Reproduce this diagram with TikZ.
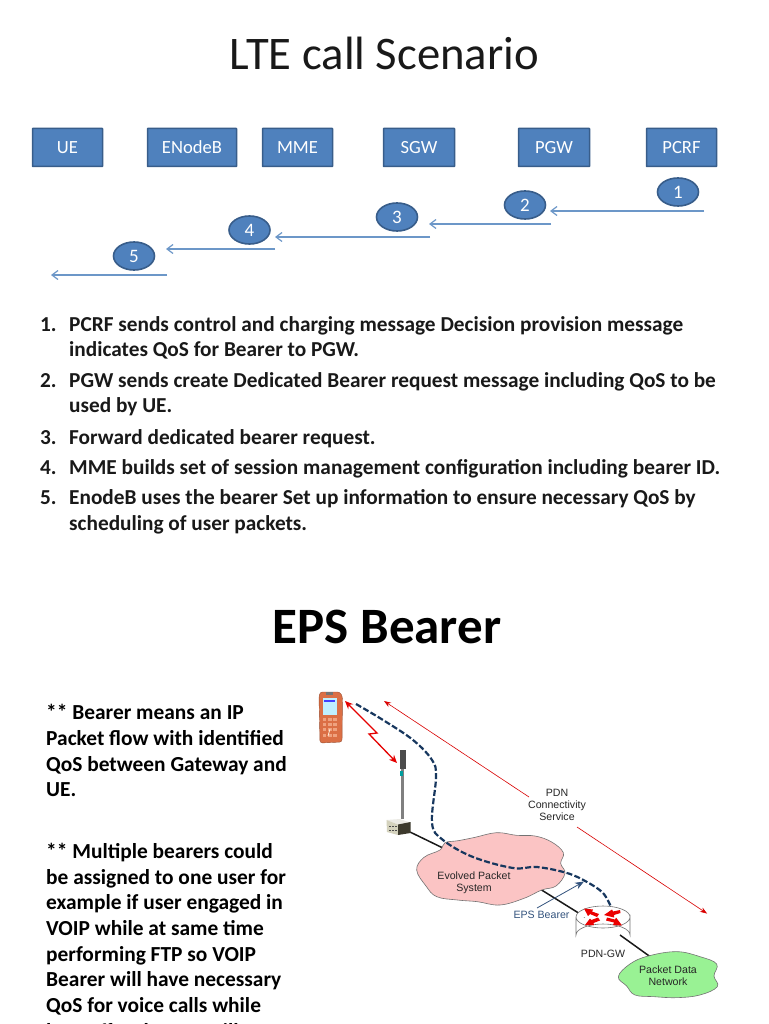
\documentclass[tikz,border=0pt]{standalone}
\usepackage{fontspec}
\setmainfont{Carlito}
\newfontfamily\arialf{Liberation Sans}
\usetikzlibrary{arrows.meta,shapes.geometric}
\definecolor{boxfill}{HTML}{4F81BD}
\definecolor{boxline}{HTML}{385D8A}
\definecolor{seqline}{HTML}{6C97C8}
\definecolor{navyb}{HTML}{17375E}
\definecolor{pinkc}{HTML}{FBC4C4}
\definecolor{greenc}{HTML}{99F294}
\definecolor{labelb}{HTML}{34547E}
\definecolor{phonec}{HTML}{DB6F45}
\definecolor{phonek}{HTML}{EFA27F}
\tikzset{
 x=1pt,y=-1pt,
 ent/.style={draw=boxline,line width=1.5pt,fill=boxfill,text=white,font=\fontsize{18.6}{22}\selectfont,inner sep=0pt,minimum height=38pt,rounded corners=.5pt,text height=12.5pt,text depth=0pt},
 num/.style={ellipse,draw=boxline,line width=1.6pt,fill=boxfill,text=white,font=\fontsize{19}{22}\selectfont,minimum width=41pt,minimum height=28pt,inner sep=0pt},
 seq/.style={draw=seqline,line width=1.3pt,-{Straight Barb[length=6pt,width=9pt,line width=1.2pt]}},
 item/.style={anchor=base west,inner sep=0pt,font=\fontsize{21.3}{24}\selectfont\bfseries,text=black!90},
 side/.style={anchor=base west,inner sep=0pt,font=\fontsize{21.4}{24}\selectfont\bfseries,text=black},
 gw/.style={inner sep=0pt,align=center,font=\arialf\fontsize{10.6}{12}\selectfont,text=black!85},
 thinred/.style={draw=red!85!black,line width=.6pt,-{Stealth[length=7pt,width=5pt]}},
 redflash/.style={draw=red!90!black,line width=1.3pt,line join=miter,{Stealth[length=8pt,width=7pt]}-{Stealth[length=8pt,width=7pt]}},
 wire/.style={draw=black!90,line width=1.5pt},
 rtr/.style={fill=red!92!black},
}
\begin{document}
\begin{tikzpicture}
\clip (0,0) rectangle (768,1024);
\fill[white] (0,0) rectangle (768,1024);
\node[inner sep=0pt,font=\fontsize{46.7}{52}\selectfont,text=black!90] (title1) at (384.5,53) {LTE call Scenario};
% entities
\node[ent,minimum width=70pt] (ue) at (67.5,147.5) {UE};
\node[ent,minimum width=89pt] (enb) at (192,147.5) {ENodeB};
\node[ent,minimum width=70pt] (mme) at (297.5,147.5) {MME};
\node[ent,minimum width=71pt] (sgw) at (419,147.5) {SGW};
\node[ent,minimum width=71pt] (pgw) at (554,147.5) {PGW};
\node[ent,minimum width=70pt] (pcrf) at (681.5,147.5) {PCRF};
\node[num] (n1) at (678,192) {1};
\node[num] (n2) at (525,205) {2};
\node[num] (n3) at (397,217) {3};
\node[num] (n4) at (249.5,230) {4};
\node[num] (n5) at (134,256) {5};
\coordinate (a1s) at (704,211); \coordinate (a1e) at (550,211);
\coordinate (a2s) at (551,224); \coordinate (a2e) at (429,224);
\coordinate (a3s) at (430,237); \coordinate (a3e) at (275,237);
\coordinate (a4s) at (275,249); \coordinate (a4e) at (166,249);
\coordinate (a5s) at (167,275); \coordinate (a5e) at (51,275);
\draw[seq] (a1s) -- (a1e);
\draw[seq] (a2s) -- (a2e);
\draw[seq] (a3s) -- (a3e);
\draw[seq] (a4s) -- (a4e);
\draw[seq] (a5s) -- (a5e);
% list
\node[item] (l1n) at (40,331) {1.};
\node[item] (l1a) at (69,331) {PCRF sends control and charging message Decision provision message};
\node[item] (l1b) at (69,356) {indicates QoS for Bearer to PGW.};
\node[item] (l2n) at (40,387) {2.};
\node[item] (l2a) at (69,387) {PGW sends create Dedicated Bearer request message including QoS to be};
\node[item] (l2b) at (69,412) {used by UE.};
\node[item] (l3n) at (40,444) {3.};
\node[item] (l3a) at (69,444) {Forward dedicated bearer request.};
\node[item] (l4n) at (40,474) {4.};
\node[item] (l4a) at (69,474) {MME builds set of session management configuration including bearer ID.};
\node[item] (l5n) at (40,504) {5.};
\node[item] (l5a) at (69,504) {EnodeB uses the bearer Set up information to ensure necessary QoS by};
\node[item] (l5b) at (69,530) {scheduling of user packets.};
\node[inner sep=0pt,font=\fontsize{51}{56}\selectfont\bfseries,text=black] (title2) at (387,627) {EPS Bearer};
% side text
\node[side] (s1) at (46,719) {** Bearer means an IP};
\node[side] (s2) at (46,745) {Packet flow with identified};
\node[side] (s3) at (46,771) {QoS between Gateway and};
\node[side] (s4) at (46,796) {UE.};
\node[side] (s5) at (46,858) {** Multiple bearers could};
\node[side] (s6) at (46,884) {be assigned to one user for};
\node[side] (s7) at (46,909) {example if user engaged in};
\node[side] (s8) at (46,935) {VOIP while at same time};
\node[side] (s9) at (46,961) {performing FTP so VOIP};
\node[side] (s10) at (46,986) {Bearer will have necessary};
\node[side] (s11) at (46,1012) {QoS for voice calls while};
\node[side] (s12) at (46,1038) {best effort bearer will};
% wires behind clouds
\coordinate (wA) at (410,832); \coordinate (wB) at (445,849);
\coordinate (wC) at (540,889); \coordinate (wD) at (585,917);
\coordinate (wE) at (620,935); \coordinate (wF) at (652,958);
\draw[wire] (wA) -- (wB);
\draw[wire] (wC) -- (wD);
\draw[wire] (wE) -- (wF);
% clouds
\begin{scope}[shift={(400,820)},x=.3333pt,y=-.3333pt]
\draw[draw=black!55,line width=.6pt,fill=pinkc] plot[smooth cycle,tension=.65] coordinates {(50,150)(72,112)(120,90)(135,68)(175,62)(225,52)(290,38)(350,46)(405,48)(455,66)(490,98)(482,130)(495,160)(468,198)(425,210)(372,235)(300,255)(232,245)(172,240)(110,230)(78,198)};
\draw[draw=black!55,line width=.6pt,fill=greenc] plot[smooth cycle,tension=.65] coordinates {(655,470)(690,432)(745,408)(830,395)(900,410)(950,432)(942,468)(952,500)(900,525)(830,533)(762,530)(705,525)(680,498)};
\end{scope}
\node[gw] (eps) at (474,882.5) {Evolved Packet\\System};
\node[gw] (pdn) at (668,976) {Packet Data\\Network};
% router
\draw[draw=black!55,line width=.6pt,fill=white] (576,917) -- (576,935) arc[start angle=180,end angle=360,x radius=27,y radius=11] -- (630,917) arc[start angle=0,end angle=360,x radius=27,y radius=11];
\fill[rtr] (584,908.5) -- (593,909.5) -- (592,911.5) -- (599,914) -- (597,917) -- (590,914) -- (588,916) -- cycle;
\fill[rtr] (585,925) -- (590,918.5) -- (591.5,920) -- (598,917.5) -- (600,920.5) -- (593.5,923) -- (594,925) -- cycle;
\fill[rtr] (604,915) -- (612,909.5) -- (613,911.5) -- (620,910) -- (620.5,913) -- (614,915) -- (614,917.5) -- cycle;
\fill[rtr] (622,925.5) -- (613,925) -- (614,922.5) -- (606,920.5) -- (607,917.5) -- (615,919.5) -- (616,917.5) -- cycle;
\node[gw] (gwl) at (603,954) {PDN-GW};
% phone
\draw[draw=phonec!70!black,line width=.4pt,fill=phonec,rounded corners=2.5pt] (320,692) -- (340,692) -- (342.5,697) -- (342,742) -- (320,743) -- (319,697) -- cycle;
\fill[black!55] (326,692) rectangle (333,694.5);
\fill[blue!25!cyan!25] (322.5,698) rectangle (336.5,715);
\fill[blue!75] (324,700) rectangle (335,702);
\foreach \r in {0,1,2,3}{\foreach \c in {0,1,2}{\fill[phonek] (322.5+\c*5.2,718+\r*5.2) rectangle +(3.8,3);}}
\draw[white!85!orange,line width=.8pt] (330,729) -- (328,736);
% tower
\fill[black!50] (401,760) rectangle (403.5,819);
\fill[black!70] (400,750) rectangle (405.5,769);
\fill[teal!75!cyan] (400,771) rectangle (403,776);
% base box
\fill[yellow!25!black!12] (386.5,820) -- (400,819) -- (410,822.5) -- (398,824.5) -- cycle;
\fill[yellow!35!black!30] (386.5,820) -- (398,824.5) -- (398,835) -- (387,832) -- cycle;
\fill[black!75!olive] (398,824.5) -- (410.5,822) -- (410.5,833) -- (398,835) -- cycle;
\foreach \c in {389,392,395}{\fill[black!70] (\c,826) rectangle +(1.8,1.4); \fill[black!70] (\c,829.5) rectangle +(1.8,1.4);}
% red lightning
\coordinate (flP) at (345,701); \coordinate (flA) at (377,733); \coordinate (flB) at (369,734); \coordinate (flT) at (397,763);
\draw[redflash] (flP) -- (flA) -- (flB) -- (flT);
% pdn connectivity
\node[gw] (svc) at (557,805) {PDN\\Connectivity\\Service};
\coordinate (sT) at (384,701); \coordinate (sA) at (529,797);
\coordinate (sB) at (577,827); \coordinate (sC) at (707,913.5);
\draw[thinred] (sA) -- (sT);
\draw[thinred] (sB) -- (sC);
% bearer
\coordinate (bS) at (356,704); \coordinate (bE) at (611,907);
\draw[navyb,line width=2.2pt,dash pattern=on 6pt off 2.4pt] plot[smooth,tension=.6] coordinates {(bS)(383,720)(413,740)(432,760)(436,777)(432,823)(443,840)(473,857)(513,868)(537,867)(567,873)(587,882)(603,893)(bE)};
\node[inner sep=0pt,font=\arialf\fontsize{10.6}{12}\selectfont,text=labelb] (bl) at (541.5,915) {EPS Bearer};
\coordinate (blA) at (537,908); \coordinate (blB) at (584,881.5);
\draw[draw=labelb,line width=.8pt,-{Stealth[length=9pt,width=7pt]}] (blA) -- (blB);
\end{tikzpicture}
\end{document}
